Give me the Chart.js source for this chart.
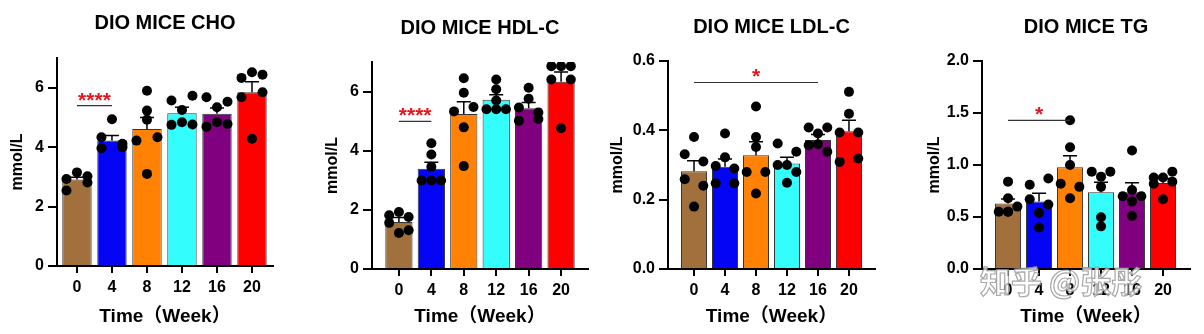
<!DOCTYPE html>
<html>
<head>
<meta charset="utf-8">
<script src="https://cdn.jsdelivr.net/npm/chart.js@4.4.1/dist/chart.umd.min.js"></script>
<style>
  body { margin: 0; background: #fff; width: 1204px; height: 334px; overflow: hidden; }
  canvas { position: absolute; top: 0; }
</style>
</head>
<body>
<canvas id="cho" style="left:0" width="300" height="334"></canvas>
<canvas id="hdl" style="left:300px" width="300" height="334"></canvas>
<canvas id="ldl" style="left:600px" width="300" height="334"></canvas>
<canvas id="tg" style="left:900px" width="304" height="334"></canvas>
<script>
// weeks on the x axis
const weeks = ['0', '4', '8', '12', '16', '20'];

// CHO
const choMean = [2.91, 4.22, 4.61, 5.14, 5.12, 5.85];
const choSem = [0.08, 0.17, 0.39, 0.20, 0.20, 0.35];
const choPoints = [
  [2.93, 3.15, 3.02, 2.54, 2.81],
  [4.94, 4.33, 3.96, 4.00, 4.11],
  [5.90, 5.23, 4.92, 4.22, 4.33, 3.10],
  [5.57, 5.73, 5.25, 4.75, 4.84, 4.76],
  [5.34, 5.68, 5.53, 4.69, 4.84, 4.78],
  [6.33, 6.52, 6.44, 5.68, 5.85, 4.28]
];
const choTicks = [0, 2, 4, 6];
const choSig = [0, 1, 5.4, '****'];

// HDL-C
const hdlMean = [1.59, 3.39, 5.24, 5.72, 5.44, 6.33];
const hdlSem = [0.15, 0.22, 0.42, 0.17, 0.19, 0.33];
const hdlPoints = [
  [1.82, 1.93, 1.76, 1.56, 1.22, 1.31],
  [4.25, 3.87, 3.46, 2.99, 2.99, 2.99],
  [6.45, 5.96, 5.33, 5.48, 4.79, 3.48],
  [6.41, 6.08, 5.70, 5.40, 5.40, 5.40],
  [5.76, 6.13, 5.46, 5.29, 5.01, 5.07],
  [6.86, 6.86, 6.86, 6.41, 6.41, 4.76]
];
const hdlTicks = [0, 2, 4, 6];
const hdlSig = [0, 1, 4.99, '****'];

// LDL-C
const ldlMean = [0.282, 0.295, 0.328, 0.304, 0.372, 0.397];
const ldlSem = [0.030, 0.022, 0.039, 0.018, 0.016, 0.032];
const ldlPoints = [
  [0.331, 0.381, 0.310, 0.259, 0.180, 0.240],
  [0.391, 0.322, 0.297, 0.290, 0.247, 0.247],
  [0.469, 0.381, 0.352, 0.280, 0.280, 0.218],
  [0.362, 0.338, 0.300, 0.300, 0.280, 0.249],
  [0.408, 0.391, 0.408, 0.357, 0.360, 0.338],
  [0.511, 0.448, 0.394, 0.394, 0.309, 0.319]
];
const ldlTicks = [0, 0.2, 0.4, 0.6];
const ldlSig = [0, 4, 0.538, '*'];

// TG
const tgMean = [0.631, 0.650, 0.978, 0.737, 0.737, 0.827];
const tgSem = [0.042, 0.078, 0.112, 0.096, 0.093, 0.043];
const tgPoints = [
  [0.84, 0.68, 0.55, 0.55, 0.55, 0.60],
  [0.81, 0.87, 0.67, 0.62, 0.54, 0.40],
  [1.43, 1.17, 1.00, 0.82, 0.79, 0.68],
  [0.936, 0.888, 0.936, 0.79, 0.497, 0.41],
  [1.14, 0.70, 0.76, 0.70, 0.65, 0.51],
  [0.88, 0.88, 0.936, 0.82, 0.84, 0.67]
];
const tgTicks = [0, 0.5, 1.0, 1.5, 2.0];
const tgSig = [0, 2, 1.43, '*'];

const barColors = ['#A2703D', '#0505F5', '#FF8205', '#33FDFD', '#800080', '#FF0000'];
const FONT = '"Liberation Sans", "Noto Sans CJK SC", Arial, sans-serif';

Chart.defaults.font.family = FONT;
Chart.defaults.color = '#000';

// spread dots of a column sideways, prism style (rows of at most 3)
function swarm(vals, yMax) {
  const thr = yMax * 0.04, step = 0.3;
  const order = vals.map((v, i) => i).sort((a, b) => vals[b] - vals[a]);
  const rows = [];
  let row = null;
  order.forEach(i => {
    if (!row || row.length >= 3 || vals[row[0]] - vals[i] > thr) {
      row = [];
      rows.push(row);
    }
    row.push(i);
  });
  const lane = [];
  rows.forEach(r => {
    r.sort((a, b) => a - b);
    const n = r.length;
    r.forEach((i, k) => {
      lane[i] = n === 2 ? (k === 0 ? -1 : 1) : k - (n - 1) / 2;
    });
  });
  return lane.map(l => l * step);
}

function makePanel(id, p) {
  const dots = p.points.flatMap((vals, i) => {
    const off = swarm(vals, p.yMax);
    return vals.map((v, k) => ({ x: i + off[k], y: v }));
  });

  const decor = {
    id: 'decor',
    afterDatasetDraw(chart, args) {
      if (args.meta.type !== 'bar') return;
      const { ctx, scales: { x, y } } = chart;
      ctx.save();
      ctx.strokeStyle = '#000';
      ctx.lineWidth = 1.5;
      p.mean.forEach((m, i) => {
        const px = x.getPixelForValue(i);
        const y0 = y.getPixelForValue(m);
        const y1 = y.getPixelForValue(m + p.sem[i]);
        ctx.beginPath();
        ctx.moveTo(px, y0);
        ctx.lineTo(px, y1);
        ctx.moveTo(px - 7, y1);
        ctx.lineTo(px + 7, y1);
        ctx.stroke();
      });
      ctx.restore();
    },
    afterDraw(chart) {
      const { ctx, chartArea, scales: { x, y } } = chart;
      ctx.save();
      // title
      ctx.fillStyle = '#000';
      ctx.font = 'bold 20px ' + FONT;
      ctx.textAlign = 'center';
      ctx.textBaseline = 'middle';
      ctx.fillText(p.title, (chartArea.left + chartArea.right) / 2, p.titleY);
      // significance bar
      const [a, b, sy, txt] = p.sig;
      const xa = x.getPixelForValue(a), xb = x.getPixelForValue(b), py = y.getPixelForValue(sy);
      ctx.strokeStyle = '#333';
      ctx.lineWidth = 1.2;
      ctx.beginPath();
      ctx.moveTo(xa, py);
      ctx.lineTo(xb, py);
      ctx.stroke();
      ctx.fillStyle = '#E8141B';
      ctx.font = 'bold 21px ' + FONT;
      ctx.textBaseline = 'alphabetic';
      ctx.fillText(txt, (xa + xb) / 2, py + 1);
      if (p.watermark) {
        ctx.font = 'bold 31px "Noto Sans CJK SC", sans-serif';
        ctx.textAlign = 'left';
        ctx.textBaseline = 'middle';
        ctx.lineWidth = 1.2;
        ctx.fillStyle = 'rgba(255,255,255,0.72)';
        ctx.strokeStyle = 'rgba(130,130,130,0.7)';
        ctx.fillText(p.watermark, 80, 281);
        ctx.strokeText(p.watermark, 80, 281);
      }
      ctx.restore();
    }
  };

  new Chart(document.getElementById(id), {
    type: 'bar',
    data: {
      datasets: [
        {
          type: 'scatter',
          data: dots,
          order: 0,
          pointRadius: 5,
          pointBackgroundColor: '#000',
          pointBorderWidth: 0
        },
        {
          data: p.mean.map((v, i) => ({ x: i, y: v })),
          order: 1,
          backgroundColor: barColors,
          borderColor: '#333',
          borderWidth: 1,
          categoryPercentage: 1,
          barPercentage: 0.84
        }
      ]
    },
    options: {
      responsive: false,
      animation: false,
      layout: {
        padding: { left: p.padL, top: p.top, right: p.width - p.right, bottom: 0 }
      },
      plugins: { legend: { display: false }, tooltip: { enabled: false } },
      scales: {
        x: {
          type: 'linear',
          min: p.xMin,
          max: p.xMax,
          offset: false,
          afterBuildTicks: s => { s.ticks = weeks.map((w, i) => ({ value: i })); },
          afterFit: s => { s.height = 334 - p.bottom; },
          ticks: {
            autoSkip: false,
            maxRotation: 0,
            padding: 5,
            font: { size: 16, weight: 'bold' },
            callback: v => weeks[v]
          },
          grid: { drawOnChartArea: false, offset: false, tickLength: 7, color: '#000', lineWidth: 2 },
          border: { color: '#000', width: 2 },
          title: {
            display: true,
            text: 'Time（Week）',
            font: { size: 19, weight: 'bold' },
            padding: { top: 0, bottom: 6 }
          }
        },
        y: {
          min: 0,
          max: p.yMax,
          afterBuildTicks: s => { s.ticks = p.ticks.map(v => ({ value: v })); },
          afterFit: s => { s.width = p.left - p.padL; },
          ticks: {
            padding: 4,
            font: { size: 16, weight: 'bold' },
            callback: v => p.decimals ? v.toFixed(1) : String(v)
          },
          grid: { drawOnChartArea: false, tickLength: 9, color: '#000', lineWidth: 2 },
          border: { color: '#000', width: 2 },
          title: {
            display: true,
            text: 'mmol/L',
            font: { size: 16, weight: 'bold' },
            padding: { top: 8, bottom: 0 }
          }
        }
      }
    },
    plugins: [decor]
  });
}

makePanel('cho', {
  title: 'DIO MICE CHO', mean: choMean, sem: choSem, points: choPoints, ticks: choTicks, sig: choSig,
  yMax: 7, decimals: false, xMin: -0.57, xMax: 5.6,
  width: 300, padL: 0, left: 57, right: 273, top: 58, bottom: 266, titleY: 23
});
makePanel('hdl', {
  title: 'DIO MICE HDL-C', mean: hdlMean, sem: hdlSem, points: hdlPoints, ticks: hdlTicks, sig: hdlSig,
  yMax: 7, decimals: false, xMin: -0.83, xMax: 5.83,
  width: 300, padL: 15, left: 72, right: 288, top: 62, bottom: 269, titleY: 28
});
makePanel('ldl', {
  title: 'DIO MICE LDL-C', mean: ldlMean, sem: ldlSem, points: ldlPoints, ticks: ldlTicks, sig: ldlSig,
  yMax: 0.6, decimals: true, xMin: -0.84, xMax: 5.84,
  width: 300, padL: 0, left: 68, right: 275, top: 61, bottom: 269, titleY: 27
});
makePanel('tg', {
  title: 'DIO MICE TG', mean: tgMean, sem: tgSem, points: tgPoints, ticks: tgTicks, sig: tgSig,
  yMax: 2, decimals: true, xMin: -0.84, xMax: 5.87,
  width: 304, padL: 17, left: 82, right: 290, top: 61, bottom: 269, titleY: 27,
  watermark: '知乎 @张彤'
});
</script>
</body>
</html>
